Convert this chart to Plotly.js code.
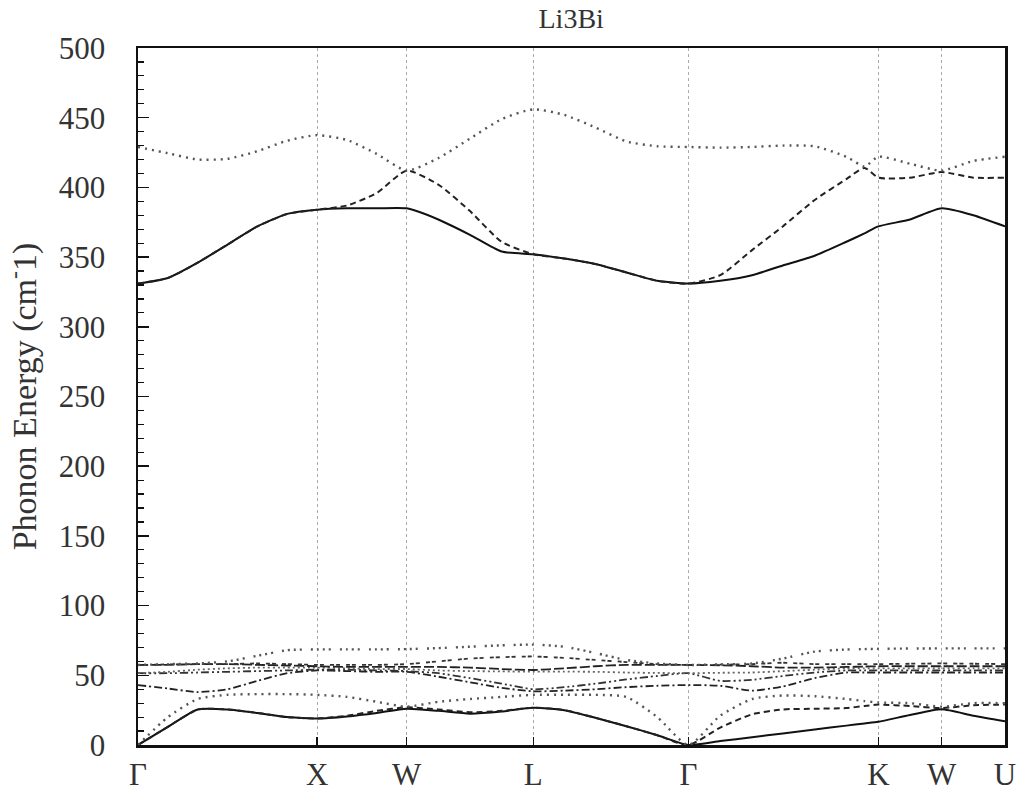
<!DOCTYPE html>
<html>
<head>
<meta charset="utf-8">
<script src="https://cdn.plot.ly/plotly-3.0.1.min.js"></script>
<style>
  html, body { margin: 0; padding: 0; background: #fff; }
  #myDiv { width: 1020px; height: 798px; }
</style>
</head>
<body>
<div id="myDiv"></div>
<script>
// k-path distance (2pi/a) : G-X | X-W | W-L | L-G | G-K | K-W | W-U
let kpts = [0, 0.1667, 0.3333, 0.5, 0.6667, 0.8333, 1.0,
  1.1667, 1.3333, 1.5,
  1.6768, 1.8536, 2.0303, 2.2071,
  2.3803, 2.5535, 2.7267, 2.8999, 3.0731,
  3.2508, 3.4285, 3.6003, 3.7785, 3.9556, 4.0564, 4.1338,
  4.3106, 4.4874,
  4.6642, 4.8410];

let tick_pos = [0, 1.0, 1.5, 2.2071, 3.0731, 4.1338, 4.4874, 4.8410];
let tick_txt = ["Γ", "X", "W", "L", "Γ", "K", "W", "U"];

// phonon branches, cm^-1, sorted by energy
let band1 = [0, 13, 25.5, 25.5, 23, 20, 19,  20.5, 23, 26,  24.5, 22.5, 24, 26.7,
  25, 19.5, 13.5, 7, 0,  2.8, 5.6, 8.3, 11.1, 13.9, 15.5, 16.7,  21.5, 25.6,  21, 17];
let band2 = [0, 13, 25.5, 25.5, 23, 20, 19,  21, 24.5, 27,  25.5, 23.5, 24.5, 26.7,
  25, 19.5, 13.5, 7, 0,  12.5, 22, 25.5, 26, 26.5, 28, 29,  28, 26.5,  28.5, 29];
let band3 = [0, 20, 33, 36, 36.5, 36.5, 36,  34.5, 31, 27.5,  31, 33, 34.5, 36,
  36, 36, 34.5, 20, 0,  21, 33, 35.5, 35, 33, 31.5, 30.5,  30, 27.5,  30, 30];
let band4 = [43, 40.5, 38, 40, 46, 51.5, 53.5,  53, 52.5, 52.5,  49, 45, 41, 38.5,
  39, 40, 41.5, 42.5, 43,  42.5, 39, 42, 48, 52, 52, 52,  52, 52,  52, 52];
let band5 = [51.5, 51.5, 52, 52.5, 53, 53.5, 54,  54, 53.5, 53,  51.5, 48, 44, 40,
  41.5, 44, 47, 49.5, 51.5,  46, 46.8, 49.5, 52, 53.5, 53.5, 53.5,  53.5, 53.5,  53.5, 53.5];
let band6 = [51.5, 52.5, 54, 55, 55.5, 55.5, 55.5,  55, 54.5, 54.5,  53.5, 53, 52.8, 52.6,
  52.6, 52.5, 52, 51.7, 51.5,  51.8, 52, 53, 54, 55, 55, 55,  55, 55,  55, 55];
let band7 = [57.4, 57.5, 58, 58, 57.5, 57, 56.5,  56, 56, 56,  56, 55.5, 54.5, 53.8,
  55, 56.5, 57.5, 57.5, 57.4,  57.2, 56.5, 55.5, 55.5, 56, 56.3, 56.5,  56.5, 56.5,  56.5, 56.5];
let band8 = [57.4, 57.8, 58, 58, 58.5, 58, 57.5,  57.5, 57.5, 58,  60, 62, 63, 63.5,
  62.5, 61, 59.5, 58, 57.4,  57.6, 58, 59, 58, 58, 58, 58,  58.3, 58.5,  58.3, 58];
let band9 = [57.4, 58, 58.5, 60, 64, 68, 68.6,  68.6, 68.6, 68.8,  69.5, 70.5, 71.5, 72,
  70.5, 66, 61, 58.5, 57.4,  57.8, 58.5, 62, 67, 68.5, 68.8, 69,  69.2, 69.3,  69.3, 69.3];
let band10 = [331, 335, 346, 359, 372, 381, 384,  385, 385, 385,  377, 366, 354, 352,
  349, 345, 339, 333, 331,  333, 337, 344, 351, 361, 367, 372,  377, 385,  380, 372];
let band11 = [331, 335, 346, 359, 372, 381, 384,  387, 396, 412,  402, 383, 361, 352,
  349, 345, 339, 333, 331,  337, 355, 372, 391, 406, 414, 407,  407, 411,  407, 407];
let band12 = [429, 424.5, 420, 420.5, 426, 433.5, 437.5,  434, 424, 412,  421, 435, 449, 456,
  452, 443, 433, 429.5, 429,  428.5, 429, 430, 429.5, 422, 415, 422,  417, 412,  419, 422];

let bandas = [band1, band2, band3, band4, band5, band6, band7, band8, band9, band10, band11, band12];

// gnuplot-like line types, cycling every 9 branches
let tipos = [
  {dash: "solid", width: 2, color: "#111"},
  {dash: "6px,4px", width: 2, color: "#222"},
  {dash: "2px,5px", width: 2.4, color: "#555"},
  {dash: "8px,3px,2px,3px", width: 1.8, color: "#222"},
  {dash: "8px,3px,2px,3px,2px,3px", width: 1.8, color: "#333"},
  {dash: "2px,3px", width: 1.8, color: "#666"},
  {dash: "10px,3px", width: 1.8, color: "#222"},
  {dash: "4px,2px,4px,6px", width: 1.8, color: "#333"},
  {dash: "2px,4px,2px,4px,2px,4px,2px,9px", width: 2.4, color: "#555"}
];

function phononPlot(kp, bands, titulo) {
  let data = [];
  bands.forEach((b, i) => {
    let t = tipos[i % tipos.length];
    data.push({
      x: kp,
      y: b,
      type: 'scatter',
      mode: 'lines',
      line: {color: t.color, width: t.width, dash: t.dash, shape: 'spline', smoothing: 0.6},
      hoverinfo: 'skip'
    });
  });

  let fonte = {family: "Liberation Serif, Times New Roman, serif", size: 31, color: "#333"};

  let layout = {
    width: 1020,
    height: 798,
    margin: {l: 138, r: 15, t: 48, b: 53},
    paper_bgcolor: '#fff',
    plot_bgcolor: '#fff',
    showlegend: false,
    hovermode: false,
    title: {text: titulo, x: 0.56, xanchor: 'center', y: 0.977, yanchor: 'middle',
      font: {family: fonte.family, size: 28, color: "#333"}},
    xaxis: {
      range: [0, 4.8410],
      tickmode: 'array',
      tickvals: tick_pos,
      ticktext: tick_txt,
      ticks: 'inside',
      ticklen: 8,
      tickwidth: 1.5,
      tickcolor: '#111',
      tickfont: fonte,
      showgrid: true,
      gridcolor: '#aaa',
      griddash: 'dot',
      gridwidth: 1,
      zeroline: false,
      showline: true,
      linecolor: '#111',
      linewidth: 2.5,
      mirror: true
    },
    yaxis: {
      range: [0, 500],
      dtick: 50,
      ticks: 'inside',
      ticklen: 11,
      tickwidth: 1.5,
      tickcolor: '#111',
      tickfont: fonte,
      ticklabelstandoff: 24,
      minor: {dtick: 10, ticks: 'inside', ticklen: 6, tickwidth: 1.2, tickcolor: '#111', showgrid: false},
      showgrid: false,
      zeroline: false,
      showline: true,
      linecolor: '#111',
      linewidth: 2.5,
      mirror: true,
      title: {text: "Phonon Energy (cm<sup>-</sup>1)", standoff: 12,
        font: {family: fonte.family, size: 34, color: "#333"}}
    }
  };

  Plotly.newPlot('myDiv', data, layout, {staticPlot: true});
}

(function() {
  phononPlot(kpts, bandas, "Li3Bi");
})();
</script>
</body>
</html>
